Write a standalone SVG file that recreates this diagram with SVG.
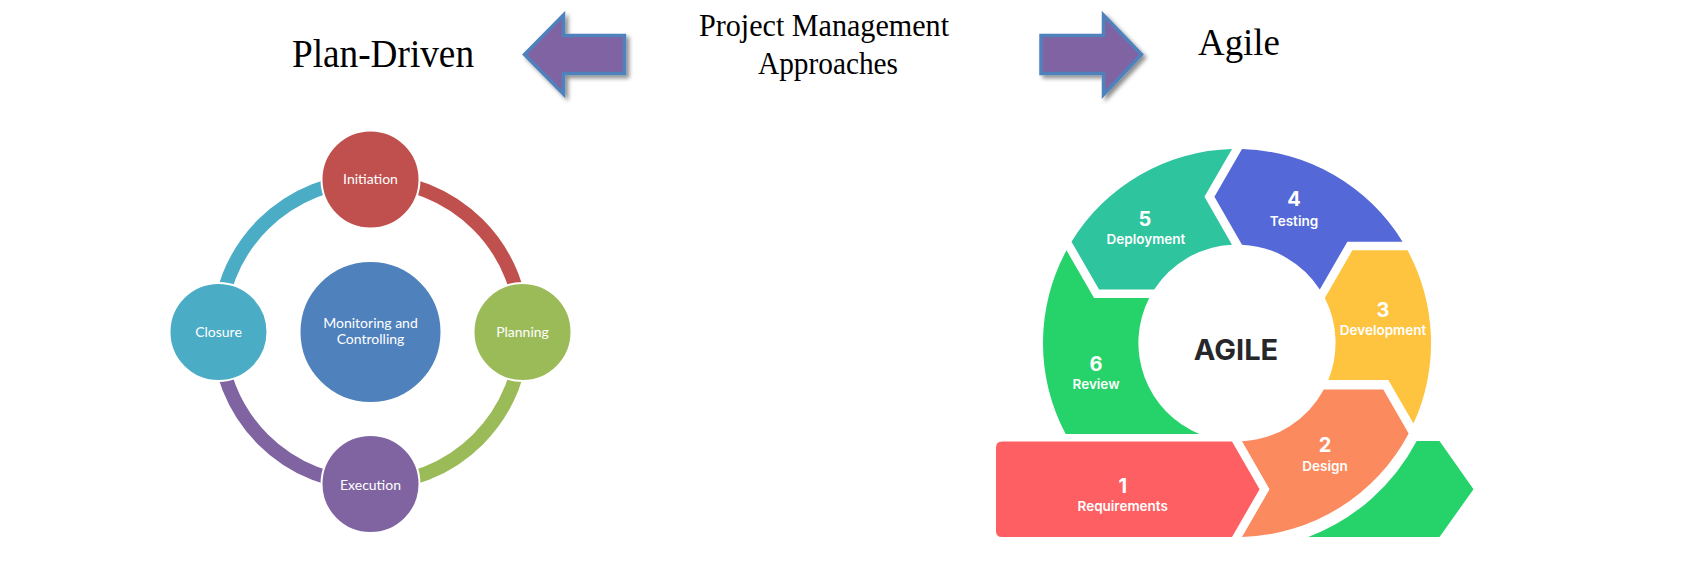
<svg xmlns="http://www.w3.org/2000/svg" width="1700" height="575" viewBox="0 0 1700 575">
<defs>
  <filter id="shadow" x="-20%" y="-20%" width="150%" height="150%">
    <feGaussianBlur in="SourceAlpha" stdDeviation="2"/>
    <feOffset dx="3" dy="3" result="b"/>
    <feComponentTransfer><feFuncA type="linear" slope="0.45"/></feComponentTransfer>
    <feMerge><feMergeNode/><feMergeNode in="SourceGraphic"/></feMerge>
  </filter>
</defs>
<style>
  .serif { font-family: "Liberation Serif", "Times New Roman", serif; fill: #000; }
  .arrow { fill: #8064A2; stroke: #4F81BD; stroke-width: 3.5; stroke-linejoin: miter; }
  .ring { fill: none; stroke-width: 14; }
  .node { stroke: #fff; stroke-width: 2; }
  .ntext { font-family: Lato, "Liberation Sans", sans-serif; font-size: 14px; fill: #fff; text-anchor: middle; }
  .num { font-family: Inter, "Liberation Sans", sans-serif; font-weight: 700; font-size: 20px; fill: #fff; text-anchor: middle; }
  .lbl { font-family: Inter, "Liberation Sans", sans-serif; font-weight: 600; font-size: 13.5px; fill: #fff; text-anchor: middle; }
</style>
<rect width="1700" height="575" fill="#fff"/>

<!-- Header -->
<g id="title">
  <text class="serif" x="824" y="36" font-size="31" text-anchor="middle" textLength="250" lengthAdjust="spacingAndGlyphs">Project Management</text>
  <text class="serif" x="828" y="74" font-size="31" text-anchor="middle" textLength="140" lengthAdjust="spacingAndGlyphs">Approaches</text>
</g>
<g id="plan-driven-label">
  <text class="serif" x="383" y="66.5" font-size="39" text-anchor="middle" textLength="182" lengthAdjust="spacingAndGlyphs">Plan-Driven</text>
</g>
<g id="agile-label">
  <text class="serif" x="1239" y="55" font-size="38" text-anchor="middle" textLength="82" lengthAdjust="spacingAndGlyphs">Agile</text>
</g>
<g id="arrow-left" filter="url(#shadow)">
  <path class="arrow" d="M524.5,54.5 L563.5,15 L563.5,35.5 L624.5,35.5 L624.5,73.5 L563.5,73.5 L563.5,94 Z"/>
</g>
<g id="arrow-right" filter="url(#shadow)">
  <path class="arrow" d="M1041,35.5 L1103.5,35.5 L1103.5,15 L1141.5,54.5 L1103.5,94.5 L1103.5,73.5 L1041,73.5 Z"/>
</g>

<!-- Plan-driven cycle: connectors -->
<g id="cycle-connectors">
  <path class="ring" stroke="#C0504D" d="M370.5,180 A152,152 0 0 1 522.5,332"/>
  <path class="ring" stroke="#9BBB59" d="M522.5,332 A152,152 0 0 1 370.5,484"/>
  <path class="ring" stroke="#8064A2" d="M370.5,484 A152,152 0 0 1 218.5,332"/>
  <path class="ring" stroke="#4BACC6" d="M218.5,332 A152,152 0 0 1 370.5,180"/>
</g>
<g id="node-initiation">
  <circle class="node" cx="370.5" cy="179.5" r="49" fill="#C0504D"/>
  <text class="ntext" x="370.5" y="184">Initiation</text>
</g>
<g id="node-planning">
  <circle class="node" cx="522.5" cy="332" r="49" fill="#9BBB59"/>
  <text class="ntext" x="522.5" y="337">Planning</text>
</g>
<g id="node-execution">
  <circle class="node" cx="370.5" cy="484" r="49" fill="#8064A2"/>
  <text class="ntext" x="370.5" y="489.5">Execution</text>
</g>
<g id="node-closure">
  <circle class="node" cx="218.5" cy="332" r="49" fill="#4BACC6"/>
  <text class="ntext" x="218.5" y="337">Closure</text>
</g>
<g id="node-monitoring">
  <circle class="node" cx="370.5" cy="332" r="71" fill="#4F81BD"/>
  <text class="ntext" x="370.5" y="328">Monitoring and</text>
  <text class="ntext" x="370.5" y="344">Controlling</text>
</g>

<!-- Agile cycle -->
<g id="seg-review">
  <path fill="#26D36A" d="M1149.2,298.08 L1094.07,298.08 L1066.5,250.33 A194,194 0 0 0 1065.67,434 L1199.3,434 A98.5,98.5 0 0 1 1149.2,298.08 Z"/>
  <text class="num" x="1096" y="371">6</text>
  <text class="lbl" x="1096" y="389">Review</text>
</g>
<g id="seg-exit">
  <path fill="#26D36A" d="M1416.7,441 L1439.5,441 L1473.5,489.3 L1439.5,537 L1308.3,537 A205,205 0 0 0 1416.7,441 Z"/>
</g>
<g id="seg-requirements">
  <path fill="#FD5F63" d="M1002,441.5 L1232,441.5 L1259.57,489.25 L1232,537 L1002,537 Q996,537 996,531 L996,447.5 Q996,441.5 1002,441.5 Z"/>
  <text class="num" x="1122.7" y="492.5" font-size="21">1</text>
  <text class="lbl" x="1122.7" y="510.5" font-size="14">Requirements</text>
</g>
<g id="seg-design">
  <path fill="#FB8A5E" d="M1242,441.37 L1269.57,489.25 L1242,536.94 A194,194 0 0 0 1408.65,433.4 L1383.3,389.5 L1323.8,389.5 A98.5,98.5 0 0 1 1242,441.37 Z"/>
  <text class="num" x="1325" y="451.5">2</text>
  <text class="lbl" x="1325" y="471">Design</text>
</g>
<g id="seg-development">
  <path fill="#FEC43F" d="M1328.3,380 L1388.3,380 L1413.5,423.6 A194,194 0 0 0 1407.5,250.33 L1352.37,250.33 L1324.8,298.08 A98.5,98.5 0 0 1 1328.3,380 Z"/>
  <text class="num" x="1383" y="317">3</text>
  <text class="lbl" x="1383" y="335">Development</text>
</g>
<g id="seg-testing">
  <path fill="#5468D8" d="M1319.8,289.42 L1347.37,241.67 L1402.5,241.67 A194,194 0 0 0 1242,149.06 L1214.43,196.75 L1242,244.63 A98.5,98.5 0 0 1 1319.8,289.42 Z"/>
  <text class="num" x="1294" y="206">4</text>
  <text class="lbl" x="1294" y="226">Testing</text>
</g>
<g id="seg-deployment">
  <path fill="#2EC49E" d="M1232,244.63 L1204.43,196.75 L1232,149.06 A194,194 0 0 0 1071.5,241.67 L1099.07,289.42 L1154.2,289.42 A98.5,98.5 0 0 1 1232,244.63 Z"/>
  <text class="num" x="1145" y="226">5</text>
  <text class="lbl" x="1146" y="244">Deployment</text>
</g>
<g id="agile-center">
  <text x="1236" y="360" font-family="Inter, 'Liberation Sans', sans-serif" font-weight="700" font-size="29" fill="#25272B" text-anchor="middle">AGILE</text>
</g>
</svg>
